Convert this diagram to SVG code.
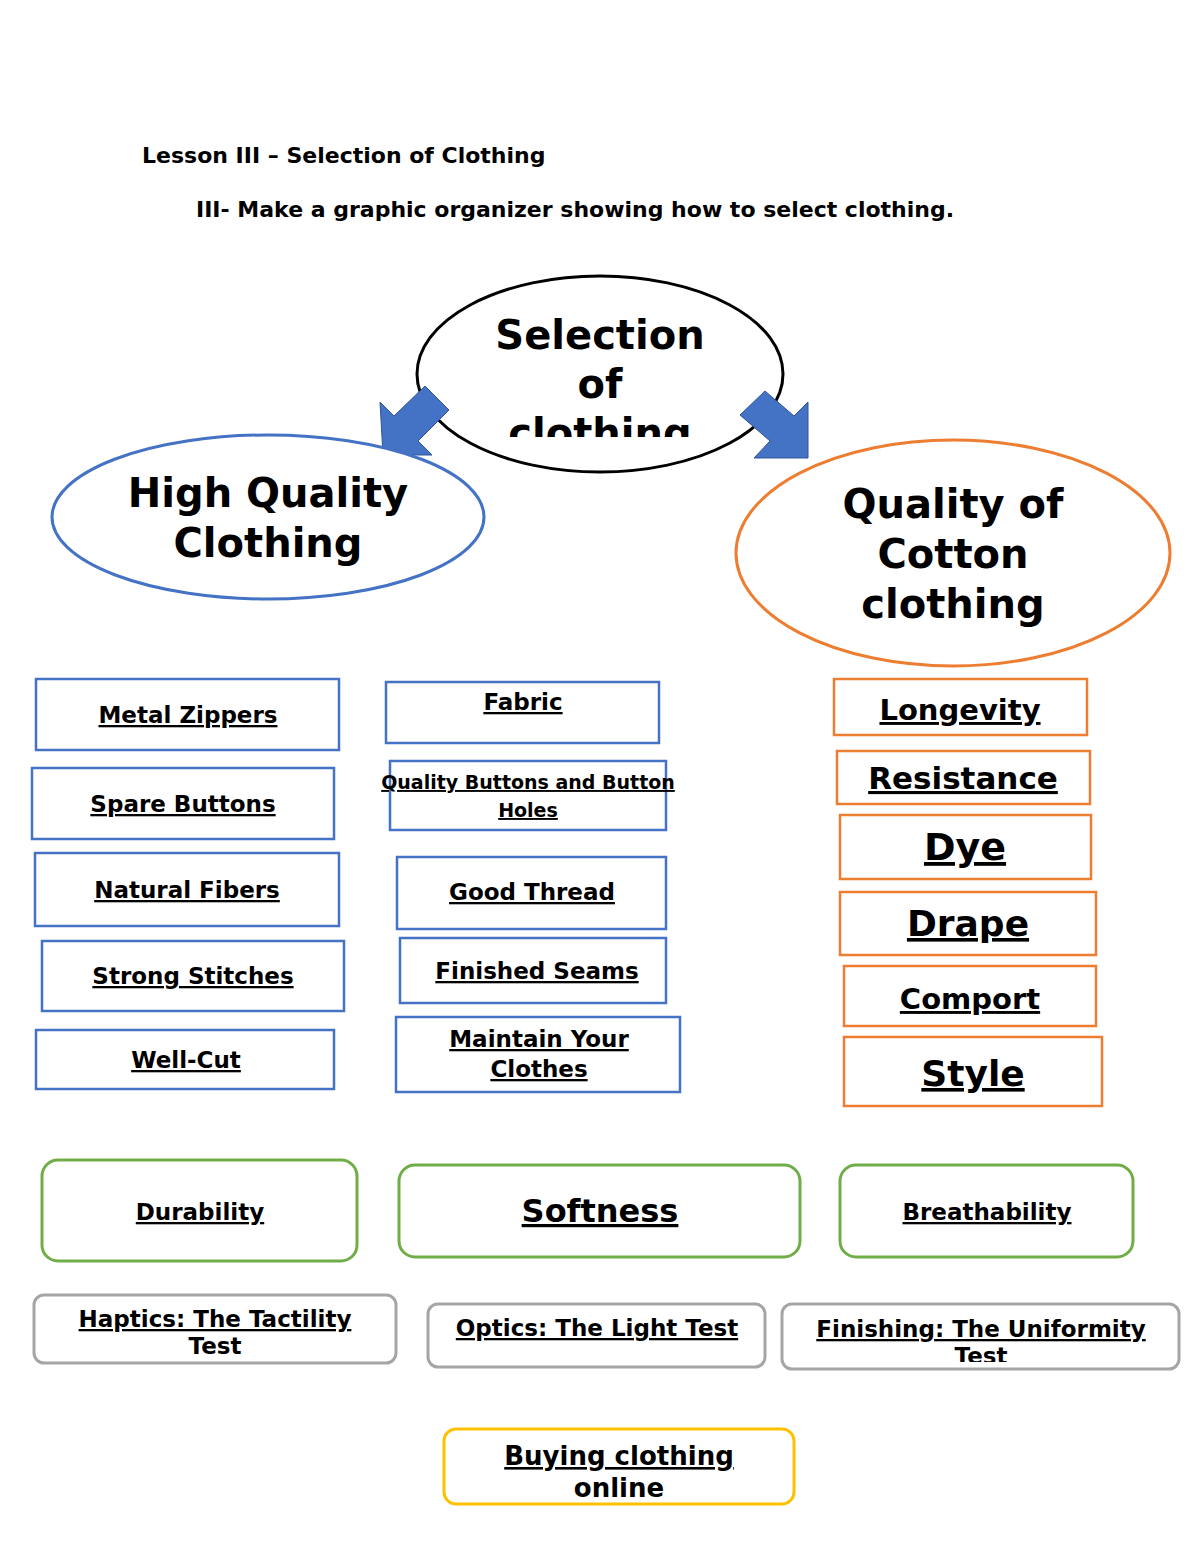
<svg xmlns="http://www.w3.org/2000/svg" width="1200" height="1553" viewBox="0 0 1200 1553">
<style>
text{font-family:"DejaVu Sans",sans-serif;font-weight:bold;fill:#000;text-anchor:middle}
.u{text-decoration:underline}
.b{fill:#fff;stroke:#4472c4;stroke-width:2.5}
.o{fill:#fff;stroke:#ed7d31;stroke-width:2.5}
.g{fill:#fff;stroke:#70ad47;stroke-width:3}
.gr{fill:#fff;stroke:#a5a5a5;stroke-width:3}
.y{fill:#fff;stroke:#ffc000;stroke-width:3}
.ar{fill:#4472c4;stroke:#2f5597;stroke-width:1}
</style>
<defs>
<clipPath id="c1"><rect x="400" y="280" width="400" height="157"/></clipPath>
<clipPath id="c2"><rect x="780" y="1300" width="400" height="62"/></clipPath>
<clipPath id="c3"><rect x="440" y="1425" width="360" height="72"/></clipPath>
</defs>
<rect width="1200" height="1553" fill="#fff"/>
<text x="142" y="163" style="text-anchor:start" font-size="22">Lesson III – Selection of Clothing</text>
<text x="196" y="217" style="text-anchor:start" font-size="22">III- Make a graphic organizer showing how to select clothing.</text>

<g id="root">
<ellipse cx="600" cy="374" rx="183" ry="98" fill="#fff" stroke="#000" stroke-width="3"/>
<g clip-path="url(#c1)" font-size="40">
<text x="600" y="349">Selection</text><text x="600" y="398">of</text><text x="600" y="447">clothing</text></g>
</g>
<g id="connectors">
<polygon class="ar" points="383,455 380,402 394,416 425,386 449,410 418,441 432,455"/>
<polygon class="ar" points="808,458 808,402 794,416 765,391 740,415 770,441 754,458"/>
</g>
<g id="hq"><ellipse cx="268" cy="517" rx="216" ry="82" fill="#fff" stroke="#4472c4" stroke-width="3"/>
<text x="268" y="507" font-size="40">High Quality</text><text x="268" y="557" font-size="40">Clothing</text></g>
<g id="qc"><ellipse cx="953" cy="553" rx="217" ry="113" fill="#fff" stroke="#ed7d31" stroke-width="3"/>
<text x="953" y="518" font-size="40">Quality of</text><text x="953" y="568" font-size="40">Cotton</text><text x="953" y="618" font-size="40">clothing</text></g>

<g id="n1"><rect class="b" x="36" y="679" width="303" height="71"/><text class="u" x="188" y="723" font-size="23">Metal Zippers</text></g>
<g id="n2"><rect class="b" x="32" y="768" width="302" height="71"/><text class="u" x="183" y="812" font-size="23">Spare Buttons</text></g>
<g id="n3"><rect class="b" x="35" y="853" width="304" height="73"/><text class="u" x="187" y="898" font-size="23">Natural Fibers</text></g>
<g id="n4"><rect class="b" x="42" y="941" width="302" height="70"/><text class="u" x="193" y="984" font-size="23">Strong Stitches</text></g>
<g id="n5"><rect class="b" x="36" y="1030" width="298" height="59"/><text class="u" x="186" y="1068" font-size="23">Well-Cut</text></g>

<g id="m1"><rect class="b" x="386" y="682" width="273" height="61"/><text class="u" x="523" y="710" font-size="23">Fabric</text></g>
<g id="m2"><rect class="b" x="390" y="761" width="276" height="69"/><text class="u" x="528" y="789" font-size="19">Quality Buttons and Button</text><text class="u" x="528" y="817" font-size="19">Holes</text></g>
<g id="m3"><rect class="b" x="397" y="857" width="269" height="72"/><text class="u" x="532" y="900" font-size="23">Good Thread</text></g>
<g id="m4"><rect class="b" x="400" y="938" width="266" height="65"/><text class="u" x="537" y="979" font-size="23">Finished Seams</text></g>
<g id="m5"><rect class="b" x="396" y="1017" width="284" height="75"/><text class="u" x="539" y="1047" font-size="23">Maintain Your</text><text class="u" x="539" y="1077" font-size="23">Clothes</text></g>

<g id="o1"><rect class="o" x="834" y="679" width="253" height="56"/><text class="u" x="960" y="720" font-size="29">Longevity</text></g>
<g id="o2"><rect class="o" x="837" y="751" width="253" height="53"/><text class="u" x="963" y="789" font-size="31">Resistance</text></g>
<g id="o3"><rect class="o" x="840" y="815" width="251" height="64"/><text class="u" x="965" y="860" font-size="38">Dye</text></g>
<g id="o4"><rect class="o" x="840" y="892" width="256" height="63"/><text class="u" x="968" y="936" font-size="36">Drape</text></g>
<g id="o5"><rect class="o" x="844" y="966" width="252" height="60"/><text class="u" x="970" y="1009" font-size="29">Comport </text></g>
<g id="o6"><rect class="o" x="844" y="1037" width="258" height="69"/><text class="u" x="973" y="1086" font-size="36">Style </text></g>

<g id="g1"><rect class="g" x="42" y="1160" width="315" height="101" rx="16"/><text class="u" x="200" y="1220" font-size="23">Durability</text></g>
<g id="g2"><rect class="g" x="399" y="1165" width="401" height="92" rx="16"/><text class="u" x="600" y="1222" font-size="32">Softness</text></g>
<g id="g3"><rect class="g" x="840" y="1165" width="293" height="92" rx="16"/><text class="u" x="987" y="1220" font-size="23">Breathability</text></g>

<g id="h1"><rect class="gr" x="34" y="1295" width="362" height="68" rx="10"/><text class="u" x="215" y="1327" font-size="23">Haptics: The Tactility</text><text x="215" y="1354" font-size="23">Test</text></g>
<g id="h2"><rect class="gr" x="428" y="1304" width="337" height="63" rx="10"/><text class="u" x="597" y="1336" font-size="23">Optics: The Light Test</text></g>
<g id="h3"><rect class="gr" x="782" y="1304" width="397" height="65" rx="10"/><g clip-path="url(#c2)"><text class="u" x="981" y="1337" font-size="23">Finishing: The Uniformity</text><text x="981" y="1364" font-size="23">Test</text></g></g>

<g id="y1"><rect class="y" x="444" y="1429" width="350" height="75" rx="12"/><g clip-path="url(#c3)"><text class="u" x="619" y="1465" font-size="26">Buying clothing</text><text x="619" y="1497" font-size="26">online</text></g></g>
</svg>
